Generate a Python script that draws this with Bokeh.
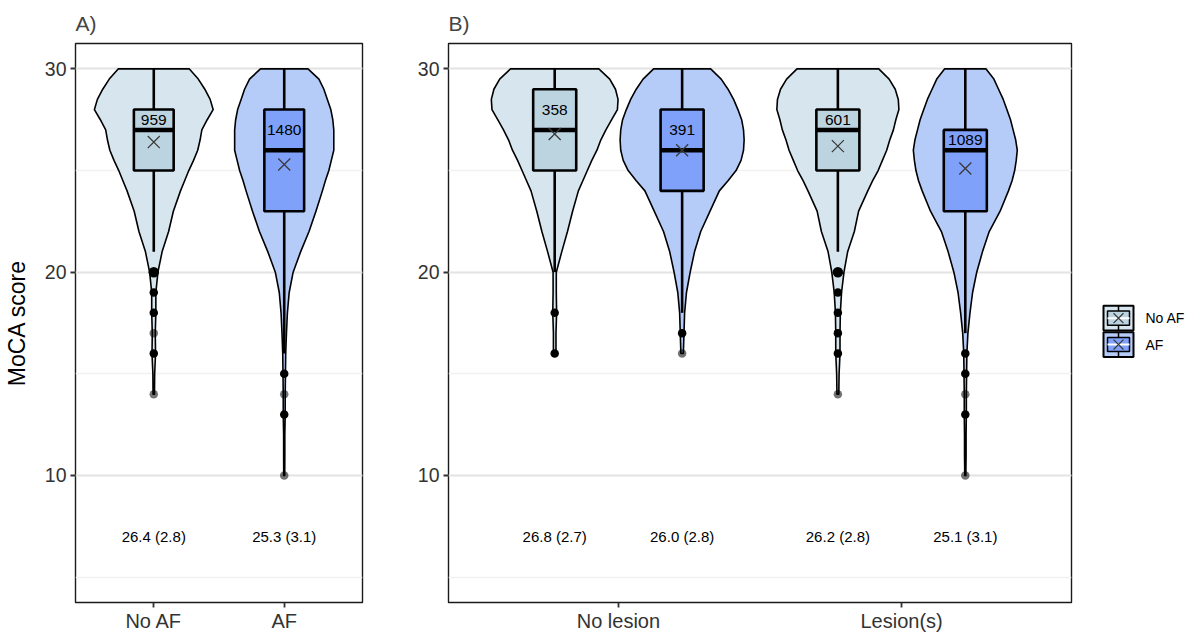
from bokeh.plotting import figure
from bokeh.models import Range1d, FixedTicker, SingleIntervalTicker, Title
from bokeh.layouts import row
from bokeh.embed import file_html
from bokeh.resources import INLINE
from bokeh.core.properties import value

FONT = "Liberation Sans"

# ---------------------------------------------------------------- data
# score levels at which the violin densities are given (top to bottom)
levels = [30, 29.5, 29, 28.5, 28, 27.5, 27, 26.5, 26, 25.5, 25, 24.5, 24,
          23, 22, 21, 20, 19, 18, 17, 16, 15, 14, 13, 12, 11, 10]

af_groups = ["No AF", "AF"]
lesion_groups = ["No lesion", "Lesion(s)"]

# Panel A: all patients, by AF status
a_n = [959, 1480]
a_mean = [26.4, 25.3]
a_sd = [2.8, 3.1]
a_q1 = [25, 23]
a_median = [27, 26]
a_q3 = [28, 28]
a_whisker_lo = [21, 16]
a_whisker_hi = [30, 30]
# relative density (1 = widest point); None = below the lowest score
a_dens_noaf = [0.60, 0.75, 0.86, 0.95, 1.00, 0.90, 0.81, 0.78, 0.74, 0.67, 0.59,
               0.52, 0.45, 0.33, 0.25, 0.14, 0.07, 0.035, 0.035, 0.025, 0.03,
               0.015, 0.012, None, None, None, None]
a_dens_af = [0.48, 0.70, 0.80, 0.87, 0.94, 0.98, 1.00, 1.00, 1.00, 0.95, 0.90,
             0.83, 0.77, 0.64, 0.50, 0.33, 0.18, 0.10, 0.064, 0.045, 0.03,
             0.025, 0.02, 0.02, 0.012, 0.012, 0.01]
a_out_noaf = [20, 19, 18, 17, 16, 14]
a_outn_noaf = [3, 2, 2, 1, 2, 1]
a_out_af = [15, 14, 13, 10]
a_outn_af = [2, 1, 2, 1]

# Panel B: by lesion status and AF status
# order: No lesion/No AF, No lesion/AF, Lesion(s)/No AF, Lesion(s)/AF
b_n = [358, 391, 601, 1089]
b_mean = [26.8, 26.0, 26.2, 25.1]
b_sd = [2.7, 2.8, 2.8, 3.1]
b_q1 = [25, 24, 25, 23]
b_median = [27, 26, 27, 26]
b_q3 = [29, 28, 28, 27]
b_whisker_lo = [20, 18, 21, 17]
b_whisker_hi = [30, 30, 30, 30]
b_dens_noles_noaf = [0.69, 0.86, 0.95, 0.99, 0.98, 0.89, 0.80, 0.72, 0.66, 0.58,
                     0.51, 0.44, 0.37, 0.28, 0.20, 0.11, 0.025, 0.025, 0.03, 0.02,
                     0.02, None, None, None, None, None, None]
b_dens_noles_af = [0.46, 0.63, 0.74, 0.83, 0.90, 0.96, 0.99, 1.00, 0.99, 0.95,
                   0.87, 0.74, 0.60, 0.45, 0.30, 0.20, 0.13, 0.07, 0.04, 0.03,
                   0.02, None, None, None, None, None, None]
b_dens_les_noaf = [0.67, 0.84, 0.94, 0.99, 1.00, 0.95, 0.91, 0.85, 0.80, 0.73,
                   0.66, 0.57, 0.49, 0.34, 0.27, 0.16, 0.10, 0.06, 0.04, 0.035,
                   0.035, 0.02, 0.015, None, None, None, None]
b_dens_les_af = [0.40, 0.55, 0.64, 0.73, 0.80, 0.87, 0.92, 0.97, 1.00, 0.98,
                 0.95, 0.90, 0.83, 0.67, 0.46, 0.33, 0.22, 0.14, 0.09, 0.05,
                 0.03, 0.025, 0.02, 0.02, 0.015, 0.015, 0.01]
b_out_noles_noaf = [18, 16]
b_outn_noles_noaf = [2, 2]
b_out_noles_af = [17, 16]
b_outn_noles_af = [2, 1]
b_out_les_noaf = [20, 19, 18, 17, 16, 14]
b_outn_les_noaf = [3, 2, 2, 2, 2, 1]
b_out_les_af = [16, 15, 14, 13, 10]
b_outn_les_af = [2, 2, 1, 2, 1]

# ---------------------------------------------------------------- style
VIOLIN_FILL = {"No AF": "#d7e5ee", "AF": "#b5cbf8"}
BOX_FILL = {"No AF": "#bcd3e0", "AF": "#7fa1fa"}
TEXT_DARK = "#333333"
Y_RANGE = (3.75, 31.25)
LABEL_Y = 7


def violin_outline(center, half_width, dens):
    pts = [(lv, d) for lv, d in zip(levels, dens) if d is not None]
    xs = [center + d * half_width for lv, d in pts] + \
         [center - d * half_width for lv, d in reversed(pts)]
    ys = [lv for lv, d in pts] + [lv for lv, d in reversed(pts)]
    return xs, ys


def draw_groups(p, centers, kinds, violin_widths, box_width, dens, q1, med, q3,
                lo, hi, means, sds, ns, outs, outns):
    vx, vy, vfill = [], [], []
    for c, k, w, d in zip(centers, kinds, violin_widths, dens):
        xs, ys = violin_outline(c, w / 2, d)
        vx.append(xs)
        vy.append(ys)
        vfill.append(VIOLIN_FILL[k])
    p.patches(vx, vy, fill_color=vfill, line_color="black", line_width=1.6,
              line_join="round")

    # whiskers
    p.segment(x0=centers, y0=q3, x1=centers, y1=hi, line_color="black", line_width=2.6)
    p.segment(x0=centers, y0=lo, x1=centers, y1=q1, line_color="black", line_width=2.6)

    # boxes
    left = [c - box_width / 2 for c in centers]
    right = [c + box_width / 2 for c in centers]
    p.quad(left=left, right=right, bottom=q1, top=q3,
           fill_color=[BOX_FILL[k] for k in kinds], line_color="black", line_width=2.6)
    p.segment(x0=left, y0=med, x1=right, y1=med, line_color="black", line_width=4.5)

    # means
    p.scatter(centers, means, marker="x", size=17, line_color="#3a3a3a", line_width=1.3)

    # group sizes inside the box, between Q3 and median
    p.text(centers, [(a + b) / 2 for a, b in zip(q3, med)], text=[str(n) for n in ns],
           text_align="center", text_baseline="middle", text_font=value(FONT),
           text_font_size="15.5px", text_color="black")

    # outliers (overplotted points look darker)
    ox, oy, oa, osz = [], [], [], []
    for c, o, on in zip(centers, outs, outns):
        for s, n in zip(o, on):
            ox.append(c)
            oy.append(s)
            oa.append(min(1.0, 0.55 * n))
            osz.append(10.5 if n >= 3 else 8.5)
    p.scatter(ox, oy, size=osz, fill_color="black", line_color=None, fill_alpha=oa)

    # mean (SD) labels
    p.text(centers, [LABEL_Y] * len(centers),
           text=[f"{m:.1f} ({s:.1f})" for m, s in zip(means, sds)],
           text_align="center", text_baseline="middle", text_font=value(FONT),
           text_font_size="15px", text_color="black")


def make_panel(tag, width, border_left, tick_labels):
    p = figure(width=width, height=635, x_range=Range1d(0.4, 2.6),
               y_range=Range1d(*Y_RANGE), output_backend="svg",
               toolbar_location=None, min_border_left=border_left,
               min_border_right=10, min_border_top=43, min_border_bottom=33)

    # a thin spacer next to the frame, then the panel tag above it
    p.add_layout(Title(text=" ", text_font_size="7px", standoff=0, offset=0), "above")
    p.add_layout(Title(text=tag, text_font=FONT, text_font_size="21px",
                       text_font_style="normal", align="left", offset=0, standoff=0),
                 "above")

    p.background_fill_color = "white"
    p.border_fill_color = "white"
    p.outline_line_color = "#1a1a1a"
    p.outline_line_width = 1.4

    p.xgrid.grid_line_color = None
    p.yaxis.ticker = SingleIntervalTicker(interval=10, num_minor_ticks=2)
    p.ygrid.grid_line_color = "#e4e4e4"
    p.ygrid.grid_line_width = 2
    p.ygrid.minor_grid_line_color = "#f1f1f1"
    p.ygrid.minor_grid_line_width = 1.3

    p.xaxis.ticker = FixedTicker(ticks=[1, 2])
    p.xaxis.major_label_overrides = {1: tick_labels[0], 2: tick_labels[1]}

    for ax in (p.xaxis, p.yaxis):
        ax.axis_line_color = None
        ax.major_tick_line_color = TEXT_DARK
        ax.major_tick_line_width = 1.8
        ax.major_tick_out = 5
        ax.major_tick_in = 0
        ax.minor_tick_line_color = None
        ax.major_label_text_font = FONT
        ax.major_label_text_color = TEXT_DARK
    p.xaxis.major_label_text_font_size = "20px"
    p.xaxis.major_label_standoff = 2
    p.yaxis.major_label_text_font_size = "19.5px"
    p.yaxis.major_label_standoff = 4
    return p


# ---------------------------------------------------------------- panel A
p_a = make_panel("A)", 372, 74, af_groups)
p_a.yaxis.axis_label = "MoCA score"
p_a.yaxis.axis_label_text_font = FONT
p_a.yaxis.axis_label_text_font_size = "23px"
p_a.yaxis.axis_label_text_font_style = "normal"
p_a.yaxis.axis_label_text_color = "black"
p_a.yaxis.axis_label_standoff = 12

draw_groups(p_a, [1, 2], af_groups, [0.91, 0.76], 0.305,
            [a_dens_noaf, a_dens_af], a_q1, a_median, a_q3,
            a_whisker_lo, a_whisker_hi, a_mean, a_sd, a_n,
            [a_out_noaf, a_out_af], [a_outn_noaf, a_outn_af])

# ---------------------------------------------------------------- panel B
p_b = make_panel("B)", 708, 76, lesion_groups)
p_b.min_border_right = 9
dodge = 0.225
b_centers = [1 - dodge, 1 + dodge, 2 - dodge, 2 + dodge]
b_kinds = ["No AF", "AF", "No AF", "AF"]
draw_groups(p_b, b_centers, b_kinds, [0.452, 0.438, 0.431, 0.367], 0.152,
            [b_dens_noles_noaf, b_dens_noles_af, b_dens_les_noaf, b_dens_les_af],
            b_q1, b_median, b_q3, b_whisker_lo, b_whisker_hi, b_mean, b_sd, b_n,
            [b_out_noles_noaf, b_out_noles_af, b_out_les_noaf, b_out_les_af],
            [b_outn_noles_noaf, b_outn_noles_af, b_outn_les_noaf, b_outn_les_af])

# ---------------------------------------------------------------- legend
p_leg = figure(width=120, height=635, x_range=Range1d(0, 120), y_range=Range1d(635, 0),
               output_backend="svg", toolbar_location=None, x_axis_type=None,
               y_axis_type=None, min_border=0)
p_leg.grid.grid_line_color = None
p_leg.outline_line_color = None

key_x = 38
key_y = [312 + 30 * i for i in range(len(af_groups))]
p_leg.rect([key_x] * 2, key_y, width=30, height=28,
           fill_color=[VIOLIN_FILL[k] for k in af_groups], line_color="black", line_width=2)
p_leg.segment([key_x] * 2, [y - 14 for y in key_y], [key_x] * 2, [y + 14 for y in key_y],
              line_color="black", line_width=1.5)
p_leg.rect([key_x] * 2, key_y, width=22, height=16,
           fill_color=[BOX_FILL[k] for k in af_groups], line_color="black", line_width=1.5)
p_leg.segment([key_x - 11] * 2, key_y, [key_x + 11] * 2, key_y,
              line_color="white", line_width=2)
p_leg.scatter([key_x] * 2, key_y, marker="x", size=14, line_color="#3a3a3a", line_width=1.2)
p_leg.text([key_x + 27] * 2, key_y, text=af_groups, text_align="left",
           text_baseline="middle", text_font=value(FONT), text_font_size="14px",
           text_color="black")

layout = row(p_a, p_b, p_leg)
open("out.html", "w").write(file_html(layout, INLINE))
